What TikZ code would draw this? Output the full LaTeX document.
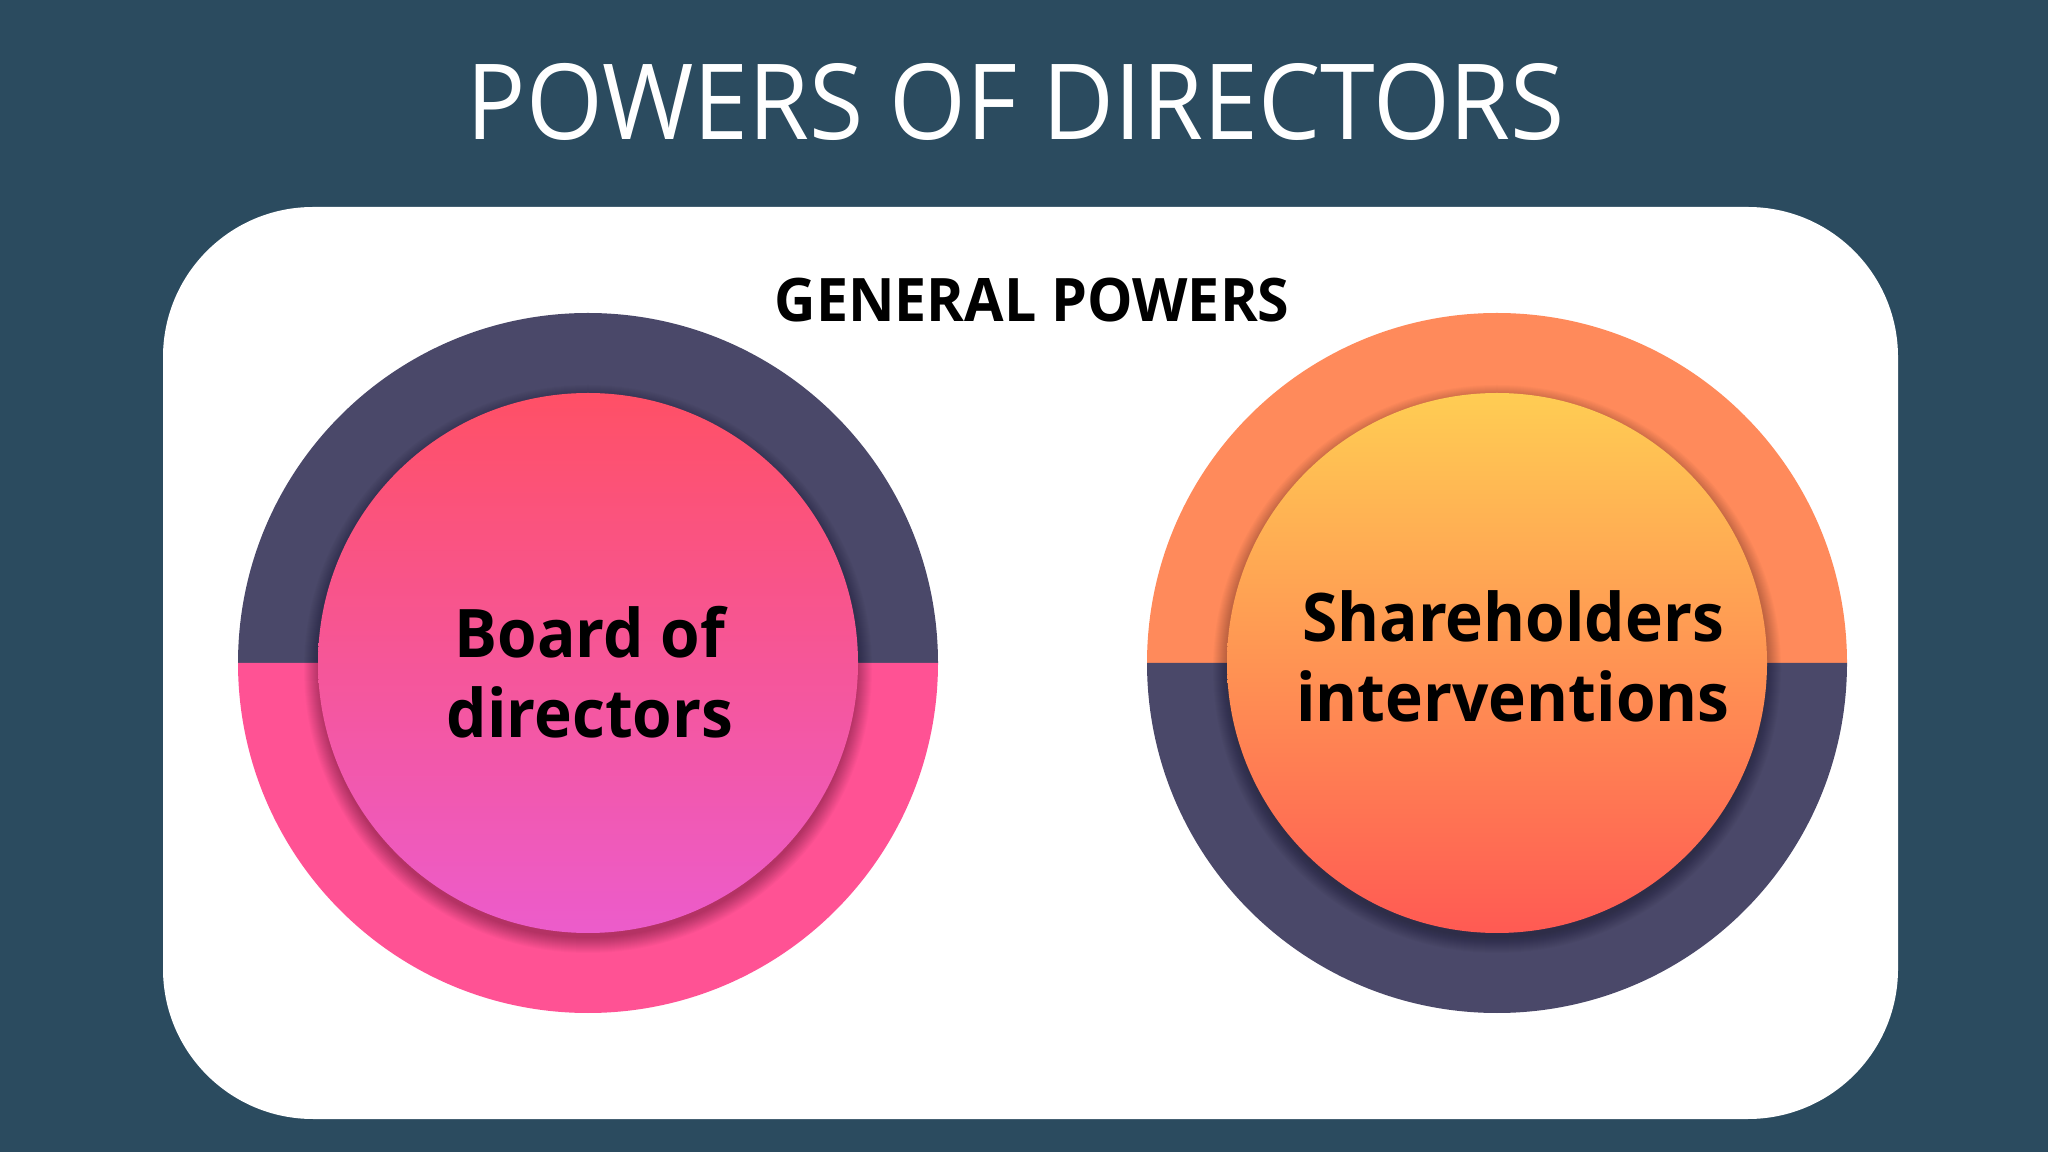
\documentclass[tikz,border=0pt]{standalone}
\usepackage{fontspec}
\setmainfont{Open Sans}
\newfontfamily\titlefont[FakeStretch=0.94]{Open Sans}
\newfontfamily\labelfont[FakeStretch=0.955]{Open Sans}
\usetikzlibrary{calc}
\definecolor{bg}{HTML}{2B4B5F}
\definecolor{navy}{HTML}{4A4869}
\definecolor{pinkring}{HTML}{FF5294}
\definecolor{orangering}{HTML}{FF8A5B}
\definecolor{ltop}{HTML}{FF5066}
\definecolor{lbot}{HTML}{EC5CCB}
\definecolor{rtop}{HTML}{FFCD53}
\definecolor{rbot}{HTML}{FF5A53}
\begin{document}
\begin{tikzpicture}[x=1pt,y=1pt,
  titletext/.style={font=\titlefont\fontsize{105}{120}\selectfont, text=white, anchor=base, inner sep=0},
  headtext/.style={font=\labelfont\bfseries\fontsize{60}{70}\selectfont, text=black, anchor=base, inner sep=0},
  circtext/.style={font=\labelfont\bfseries\fontsize{67}{80}\selectfont, text=black, anchor=base, inner sep=0}]
\useasboundingbox (0,0) rectangle (2048,1152);
\fill[bg] (0,0) rectangle (2048,1152);
\fill[white, rounded corners=150] (163,33) rectangle (1898,945);
\node[titletext] (title) at (1016,1012) {POWERS OF DIRECTORS};
\node[headtext] (gp) at (1032,830) {GENERAL POWERS};
\coordinate (L) at (588,489);
\coordinate (R) at (1497,489);
% left ring
\fill[navy] ($(L)+(-350,0)$) arc[start angle=180, end angle=0, radius=350] -- cycle;
\fill[pinkring] ($(L)+(-350,0)$) arc[start angle=180, end angle=360, radius=350] -- cycle;
% right ring
\fill[orangering] ($(R)+(-350,0)$) arc[start angle=180, end angle=0, radius=350] -- cycle;
\fill[navy] ($(R)+(-350,0)$) arc[start angle=180, end angle=360, radius=350] -- cycle;
% shadows
\foreach \k in {1,...,16} {
  \fill[black, opacity=0.018] ($(L)+(0,-6)$) circle[radius=268+\k];
  \fill[black, opacity=0.018] ($(R)+(0,-6)$) circle[radius=268+\k];
}
\shade[top color=ltop, bottom color=lbot] (L) circle[radius=270];
\shade[top color=rtop, bottom color=rbot] (R) circle[radius=270];
\node[circtext] (b1) at (590,494) {Board of};
\node[circtext] (b2) at (590,414) {directors};
\node[circtext] (s1) at (1513,510) {Shareholders};
\node[circtext] (s2) at (1513,430) {interventions};
\end{tikzpicture}
\end{document}
